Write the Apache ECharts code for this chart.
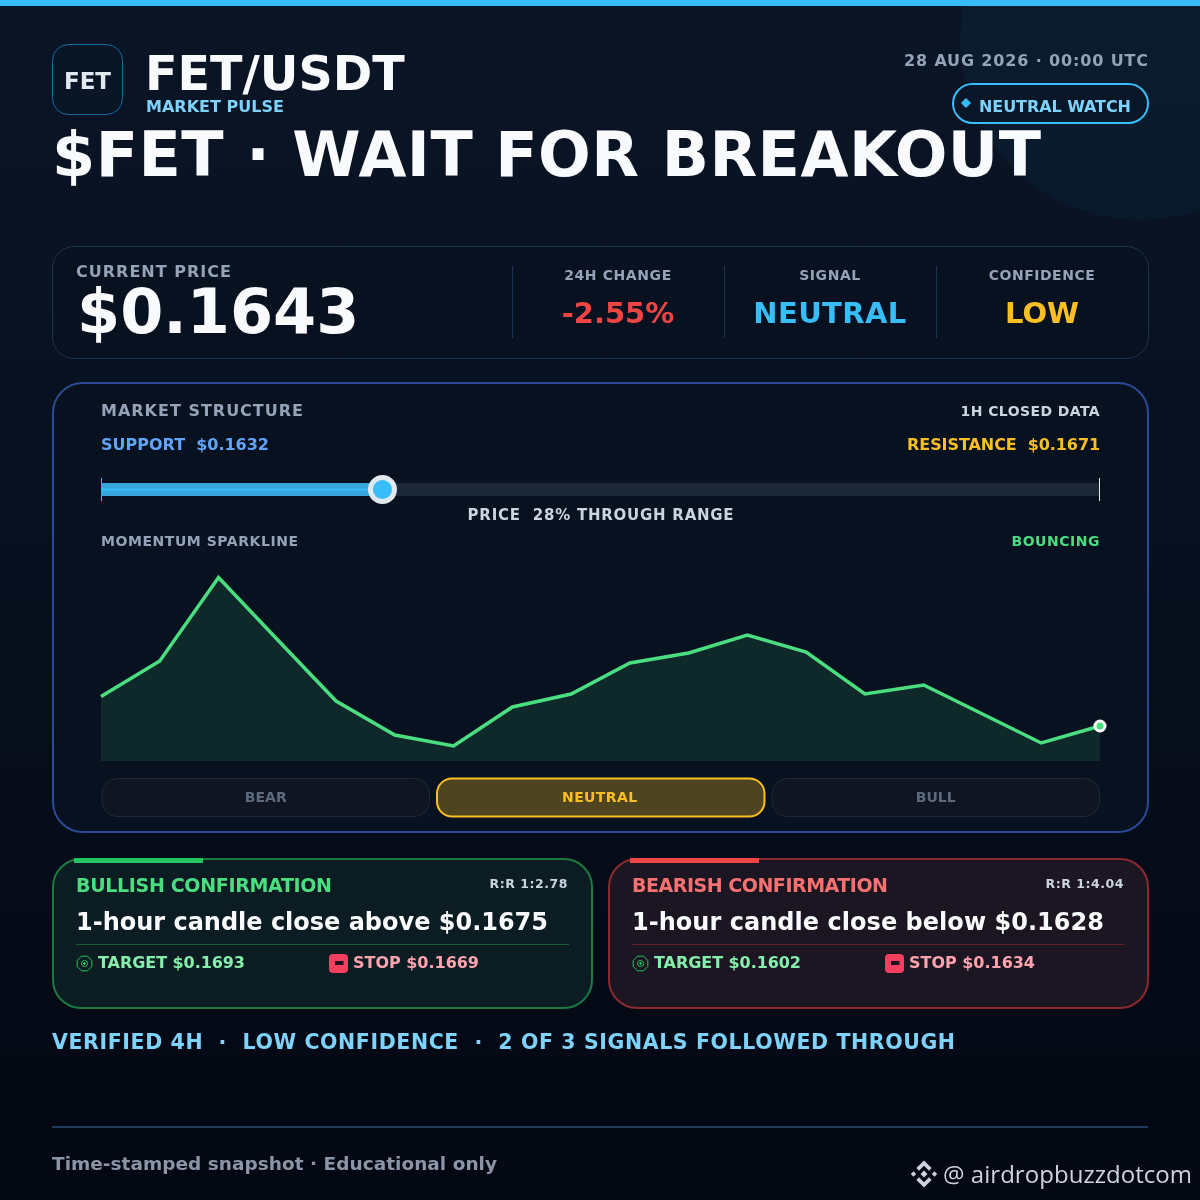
<!DOCTYPE html>
<html><head><meta charset="utf-8">
<style>html,body{margin:0;padding:0;background:#050b18}#c{width:1200px;height:1200px}</style>
<script src="https://cdn.jsdelivr.net/npm/echarts@6/dist/echarts.min.js"></script>
</head><body><div id="c"></div>
<script>
// ---- data ----
const sparkHours = ['h1','h2','h3','h4','h5','h6','h7','h8','h9','h10','h11','h12','h13','h14','h15','h16','h17','h18'];
const sparkValues = [64.5,100,183.5,121.5,60,26,15,54,67,98,108,126,109,67,76,47,18,35];
const supportPrice = 0.1632;
const resistancePrice = 0.1671;
const currentPrice = 0.1643;
const stanceLabels = ['BEAR','NEUTRAL','BULL'];

// ---- letter spacing for canvas text ----
const spacing = new Map();
const origFill = CanvasRenderingContext2D.prototype.fillText;
CanvasRenderingContext2D.prototype.fillText = function (t, x, y, m) {
  const ls = spacing.get(t) || 0;
  this.letterSpacing = ls + 'px';
  if (m === undefined) origFill.call(this, t, x, y); else origFill.call(this, t, x, y, m);
  this.letterSpacing = '0px';
};
const measure = document.createElement('canvas').getContext('2d');
const DV = '"DejaVu Sans"';
const g = [];
function T(text, x, base, size, fill, o) {
  o = o || {};
  const fam = o.fam || DV, weight = o.weight || 'bold';
  const font = weight + ' ' + size + 'px ' + fam;
  if (o.w) {
    measure.font = font;
    spacing.set(text, (o.w - measure.measureText(text).width) / (text.length - 1));
  }
  const k = o.fam ? 0.3 : 0.25;
  g.push({ type: 'text', z: 20, silent: true, x: x, y: base - k * size,
    style: { text: text, font: font, fill: fill, opacity: o.op == null ? 1 : o.op, align: o.align || 'left', verticalAlign: 'middle' } });
}
function R(x, y, w, h, r, fill, stroke, lw, z) {
  g.push({ type: 'rect', z: z || 5, silent: true, shape: { x: x, y: y, width: w, height: h, r: r },
    style: { fill: fill, stroke: stroke || null, lineWidth: lw || 0 } });
}
function L(x1, y1, x2, y2, c, lw) {
  g.push({ type: 'line', z: 6, silent: true, shape: { x1, y1, x2, y2 }, style: { stroke: c, lineWidth: lw || 1 } });
}
function P(pts, fill, stroke, lw) {
  g.push({ type: 'polygon', z: 7, silent: true, shape: { points: pts }, style: { fill: fill || null, stroke: stroke || null, lineWidth: lw || 0 } });
}
function C(cx, cy, r, fill, stroke, lw, z) {
  g.push({ type: 'circle', z: z || 7, silent: true, shape: { cx, cy, r }, style: { fill: fill || null, stroke: stroke || null, lineWidth: lw || 0 } });
}

// ---- backdrop ----
C(1140, 40, 180, 'rgba(56,189,248,0.045)', null, 0, 1);
R(0, 0, 1200, 6, 0, '#38bdf8', null, 0, 2);

// ---- header ----
R(52.5, 44.5, 70, 70, 16, '#0a1525', '#0e6f9c', 1);
T('FET', 87.5, 89, 23, '#e2e8f0', { align: 'center' });
T('FET/USDT', 145, 90, 47.6, '#f8fafc');
T('MARKET PULSE', 146, 112, 16, '#7dd3fc', { w: 138 });
T('$FET · WAIT FOR BREAKOUT', 52, 175.5, 62, '#f8fafc', { w: 989 });
T('28 AUG 2026 · 00:00 UTC', 904, 66, 16, '#94a3b8', { w: 244 });
R(953, 84, 195, 39, 19.5, '#0a1728', '#38bdf8', 2);
P([[966, 98.5], [970.5, 103], [966, 107.5], [961.5, 103]], '#38bdf8', '#38bdf8', 1);
T('NEUTRAL WATCH', 979, 112, 16, '#7dd3fc', { w: 152 });

// ---- price card ----
R(52.5, 246.5, 1096, 112, 22, '#07111f', '#1c3350', 1);
T('CURRENT PRICE', 76, 276.5, 16, '#94a3b8', { w: 155 });
T('$0.1643', 77, 332, 62, '#f8fafc');
[512.5, 724.5, 936.5].forEach(x => L(x, 266, x, 338, '#1c3350', 1));
T('24H CHANGE', 618, 280, 14, '#94a3b8', { align: 'center', w: 107 });
T('-2.55%', 618, 323, 29, '#ef4444', { align: 'center' });
T('SIGNAL', 830, 280, 14, '#94a3b8', { align: 'center', w: 61 });
T('NEUTRAL', 830, 323, 29, '#38bdf8', { align: 'center' });
T('CONFIDENCE', 1042, 280, 14, '#94a3b8', { align: 'center', w: 106 });
T('LOW', 1042, 323, 29, '#fbbf24', { align: 'center' });

// ---- structure card ----
R(53, 383, 1095, 449, 30, '#07111f', '#2a4a94', 2);
T('MARKET STRUCTURE', 101, 415.5, 16, '#94a3b8', { w: 202 });
T('1H CLOSED DATA', 1100, 415.5, 14, '#cbd5e1', { align: 'right', w: 139 });
T('SUPPORT  $0.1632', 101, 450, 16, '#60a5fa', { w: 168 });
T('RESISTANCE  $0.1671', 1100, 450, 16, '#fbbf24', { align: 'right', w: 193 });
L(101.5, 478, 101.5, 501, '#38bdf8', 1);
L(1099.5, 478, 1099.5, 501, '#e2e8f0', 1);
C(108, 489.5, 6.5, '#38bdf8', null, 0, 8);
T('PRICE  28% THROUGH RANGE', 601, 520, 15, '#cbd5e1', { align: 'center', w: 266 });
T('MOMENTUM SPARKLINE', 101, 545.5, 14, '#94a3b8', { w: 197 });
T('BOUNCING', 1100, 545.5, 14, '#4ade80', { align: 'right', w: 88 });

// ---- stance pills ----
[[102, 327.5], [437, 327.5], [772, 327.5]].forEach((b, i) => {
  const on = i === 1;
  R(b[0], 778.5, b[1], 38, 15, on ? '#4f4420' : '#0f1523', on ? '#fbbf24' : '#1e293b', on ? 2 : 1);
  T(stanceLabels[i], b[0] + b[1] / 2 - (on ? 1 : 0), 802, 14, on ? '#fbbf24' : '#5d6a7d', { align: 'center', w: on ? 75 : 0 });
});

// ---- confirmation cards ----
function card(x, w, o) {
  R(x, 859, w, 149, 28, o.bg, o.border, 2);
  R(x + 21, 858, 129, 5, 0, o.accent);
  T(o.title, x + 23, 892, 19, o.titleC, { w: 256 });
  T(o.rr, x + w - 24, 888, 12.5, '#cbd5e1', { align: 'right', w: 78 });
  T(o.cond, x + 23, 930, 24, '#f8fafc', { w: 472 });
  L(x + 23, 944.5, x + 516, 944.5, o.rule, 1);
  const cx = x + 31.5, cy = 963.5, r = 7.3, a = r * 0.41;
  P([[cx - a, cy - r], [cx + a, cy - r], [cx + r, cy - a], [cx + r, cy + a], [cx + a, cy + r], [cx - a, cy + r], [cx - r, cy + a], [cx - r, cy - a]], null, '#22c55e', 1);
  C(cx, cy, 3, null, '#22c55e', 1);
  L(cx - 1.5, cy, cx + 1.5, cy, '#22c55e', 1);
  L(cx, cy - 1.5, cx, cy + 1.5, '#22c55e', 1);
  T(o.target, x + 45, 968, 16, '#86efac', { w: 147 });
  R(x + 276, 954, 19, 19, 4, '#f43f5e');
  R(x + 282, 961, 8.5, 4, 0, '#1c1622', null, 0, 8);
  T(o.stop, x + 300, 968, 16, '#fda4af', { w: 126 });
}
card(53, 539, { bg: '#0b1c22', border: '#1a7a40', accent: '#22c55e', title: 'BULLISH CONFIRMATION', titleC: '#4ade80', rr: 'R:R 1:2.78', cond: '1-hour candle close above $0.1675', rule: '#14602f', target: 'TARGET $0.1693', stop: 'STOP $0.1669' });
card(609, 539, { bg: '#1c1622', border: '#8b2a2e', accent: '#ef4444', title: 'BEARISH CONFIRMATION', titleC: '#f87171', rr: 'R:R 1:4.04', cond: '1-hour candle close below $0.1628', rule: '#5e1f27', target: 'TARGET $0.1602', stop: 'STOP $0.1634' });

// ---- footer ----
T('VERIFIED 4H  ·  LOW CONFIDENCE  ·  2 OF 3 SIGNALS FOLLOWED THROUGH', 52, 1049, 20.5, '#7dd3fc', { w: 903 });
L(52, 1127, 1148, 1127, '#1e3a5f', 2);
T('Time-stamped snapshot · Educational only', 52, 1170, 18.5, '#8a95a8', { w: 445 });
const bx = 924, by = 1174, wm = '#cbd5e1';
const off = (a) => a.map(p => [bx + p[0], by + p[1]]);
P(off([[0, -3.5], [3.5, 0], [0, 3.5], [-3.5, 0]]), wm);
P(off([[-10.5, -2.7], [-7.8, 0], [-10.5, 2.7], [-13.2, 0]]), wm);
P(off([[10.5, -2.7], [13.2, 0], [10.5, 2.7], [7.8, 0]]), wm);
P(off([[0, -13.5], [7.6, -5.9], [5, -3.3], [0, -8.3], [-5, -3.3], [-7.6, -5.9]]), wm);
P(off([[0, 13.5], [7.6, 5.9], [5, 3.3], [0, 8.3], [-5, 3.3], [-7.6, 5.9]]), wm);
T('@ airdropbuzzdotcom', 943, 1183, 24, '#cbd5e1', { fam: '"Open Sans"', weight: 'normal', w: 249 });

// ---- chart ----
const chart = echarts.init(document.getElementById('c'), null, { renderer: 'canvas', width: 1200, height: 1200 });
chart.setOption({
  animation: false,
  backgroundColor: new echarts.graphic.LinearGradient(0, 0, 0, 1, [
    { offset: 0, color: '#0a1526' }, { offset: 0.5, color: '#070f1e' }, { offset: 1, color: '#030712' }]),
  graphic: { elements: g },
  grid: [
    { left: 101, top: 561, width: 999, height: 200 },
    { left: 101, top: 489, width: 998, height: 1 }
  ],
  xAxis: [
    { type: 'category', gridIndex: 0, data: sparkHours, boundaryGap: false, show: false },
    { type: 'value', gridIndex: 1, min: supportPrice, max: resistancePrice, show: false }
  ],
  yAxis: [
    { type: 'value', gridIndex: 0, min: 0, max: 200, show: false },
    { type: 'value', gridIndex: 1, min: 0, max: 1, show: false }
  ],
  series: [
    { type: 'line', z: 10, xAxisIndex: 0, yAxisIndex: 0, data: sparkValues, symbol: 'none', silent: true, clip: false,
      lineStyle: { color: '#4ade80', width: 3.5, join: 'miter' }, areaStyle: { color: 'rgba(74,222,128,0.12)', opacity: 1 } },
    { type: 'scatter', z: 11, xAxisIndex: 0, yAxisIndex: 0, silent: true, clip: false,
      data: [[sparkHours[sparkHours.length - 1], sparkValues[sparkValues.length - 1]]], symbolSize: 10,
      itemStyle: { color: '#4ade80', borderColor: '#ffffff', borderWidth: 3, opacity: 1 } },
    { type: 'line', z: 7, xAxisIndex: 1, yAxisIndex: 1, data: [[supportPrice, 0.5], [resistancePrice, 0.5]], symbol: 'none', silent: true,
      lineStyle: { color: '#1c2838', width: 13 } },
    { type: 'line', z: 8, xAxisIndex: 1, yAxisIndex: 1, data: [[supportPrice, 0.5], [currentPrice, 0.5]], symbol: 'none', silent: true,
      lineStyle: { color: '#36a6dc', width: 13 } },
    { type: 'line', z: 9, xAxisIndex: 1, yAxisIndex: 1, data: [[supportPrice, 0.5], [currentPrice, 0.5]], symbol: 'none', silent: true,
      lineStyle: { color: '#38bdf8', width: 2 } },
    { type: 'scatter', z: 12, xAxisIndex: 1, yAxisIndex: 1, data: [[currentPrice, 0.5]], symbolSize: 24, silent: true, clip: false,
      itemStyle: { color: '#38bdf8', borderColor: '#e2e8f0', borderWidth: 5, opacity: 1 } }
  ]
});
</script></body></html>
